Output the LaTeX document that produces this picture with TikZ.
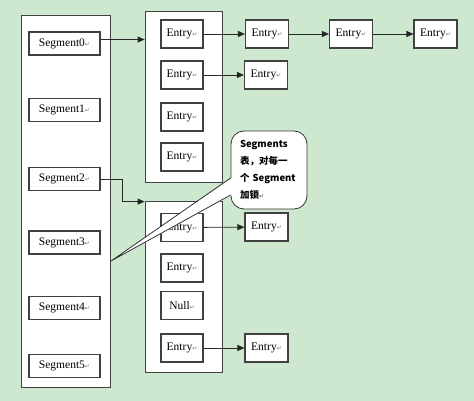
\documentclass[tikz,border=0pt]{standalone}
\usepackage{fontspec}
\setmainfont{Liberation Serif}
\newfontfamily\cjk{Noto Sans CJK SC}
\newfontfamily\dejavu{DejaVu Sans}
\usetikzlibrary{arrows.meta}
\definecolor{bggreen}{RGB}{205,232,207}
\definecolor{boxline}{RGB}{65,65,65}
\newcommand{\retmark}{{\dejavu\fontsize{6}{6}\selectfont\textcolor{black!55}{↵}}}

\begin{document}
\begin{tikzpicture}[x=1pt, y=-1pt, every node/.style={font=\fontsize{11.5}{13}\selectfont},
	outerbox/.style={draw=boxline, fill=white, line width=0.8pt, inner sep=0pt},
	segbox/.style={draw=boxline, fill=white, line width=1.1pt, minimum width=71pt, minimum height=23pt, inner sep=0pt},
	entrybox/.style={segbox, minimum width=42pt, minimum height=28pt},
	arr/.style={-{Triangle[length=7pt,width=6pt]}, line width=0.8pt, black!85}]
	\fill[bggreen] (0,0) rectangle (474,401);
	\useasboundingbox (0,0) rectangle (474,401);
	% segment table
	\node[outerbox, minimum width=89pt, minimum height=372pt] (segtab) at (65.5,201) {};
	\foreach \i/\y in {0/43.5,1/110,2/179,3/242.5,4/308,5/366} {\node[segbox] (s\i) at (64.5,\y) {Segment\i\retmark};}
	% two buckets
	\node[outerbox, minimum width=77pt, minimum height=171pt] (b1) at (183.5,96.5) {};
	\node[outerbox, minimum width=77pt, minimum height=171pt] (b2) at (183.5,286.5) {};
	\foreach \i/\y in {1/34,2/75,3/117,4/157,5/227.5,6/268,8/348} {\node[entrybox] (e\i) at (182,\y) {Entry\retmark};}
	\node[entrybox] (e7) at (182,305.5) {Null\retmark};
	% chained entries
	\foreach \n/\x/\y in {r1/267/34,r2/351/34,r3/435.5/34,r4/266/75,r5/266.5/227,r6/266.5/348} {\node[entrybox, minimum width=43pt] (\n) at (\x,\y) {Entry\retmark};}
	\draw[arr] (e1) -- (r1);
	\draw[arr] (r1) -- (r2);
	\draw[arr] (r2) -- (r3);
	\draw[arr] (e2) -- (r4);
	\draw[arr] (e5) -- (r5);
	\draw[arr] (e8) -- (r6);
	\draw[arr] ([yshift=4pt]s0.east) -- ([yshift=4pt]s0.east -| b1.west);
	\draw[arr] (s2.east) -- ++(22,0) |- ([yshift=-1pt]b2.north west);
	% callout
	\node[draw=black!80, fill=white, rounded corners=13pt, line width=0.8pt, minimum width=76pt, minimum height=78pt, text width=58pt, align=left, font=\cjk\bfseries\fontsize{9.5}{17}\selectfont] (note) at (269,170) {Segments\\表，对每一\\个 Segment\\加锁\retmark};
	\coordinate (tip) at (111,261);
	\coordinate (wa) at ([yshift=-8pt]note.west);
	\coordinate (wb) at ([yshift=-25pt]note.west);
	\fill[white] (tip) -- ([xshift=1.5pt]wa) -- ([xshift=1.5pt]wb) -- cycle;
	\draw[line width=0.8pt, black!80] (wa) -- (tip) -- (wb);
\end{tikzpicture}
\end{document}
